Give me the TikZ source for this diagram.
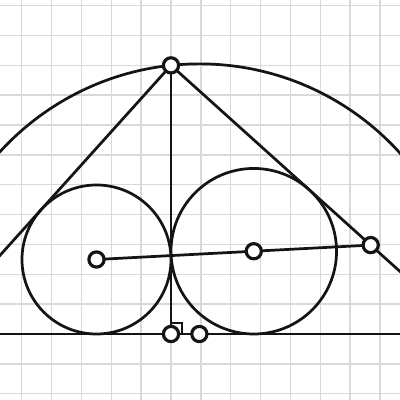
\documentclass[tikz,border=0pt]{standalone}
\begin{document}
\begin{tikzpicture}[x=1cm,y=1cm,
  gridline/.style={draw=black!15, line width=1.4pt},
  geo/.style={draw=black!92, line width=2.6pt},
  pt/.style={circle, draw=black!92, fill=white, line width=3pt, minimum size=14.5pt, inner sep=0pt}]
\useasboundingbox (-5.729,-2.211) rectangle (7.672,11.19);
\clip (-5.729,-2.211) rectangle (7.672,11.19);
\fill[white] (-5.729,-2.211) rectangle (7.672,11.19);
\foreach \x in {-5,...,7} \draw[gridline] (\x,-3) -- (\x,12);
\foreach \y in {-2,...,11} \draw[gridline] (-6,\y) -- (8,\y);
\coordinate (A) at (0,9);
\coordinate (D) at (0,0);
\coordinate (M) at (0.95,0);
\coordinate (B) at (-8.1,0);
\coordinate (C) at (10,0);
\coordinate (I1) at (-2.496,2.496);
\coordinate (I2) at (2.773,2.773);
\coordinate (L) at (6.690,2.979);
\coordinate (W) at (-7,0);
\coordinate (E) at (9,0);
\draw[geo] (W) -- (E);
\draw[geo] (M) ++(9.05,0) arc[start angle=0,end angle=180,radius=9.05];
\draw[geo] (A) -- (B);
\draw[geo] (A) -- (C);
\draw[geo] (A) -- (D);
\draw[geo] (I1) circle[radius=2.496];
\draw[geo] (I2) circle[radius=2.773];
\draw[geo] (I1) -- (L);
\draw[geo, line width=2.2pt] (0,0.36) -- (0.36,0.36) -- (0.36,0);
\foreach \p in {A,D,M,I1,I2,L} \node[pt] at (\p) {};
\end{tikzpicture}
\end{document}
